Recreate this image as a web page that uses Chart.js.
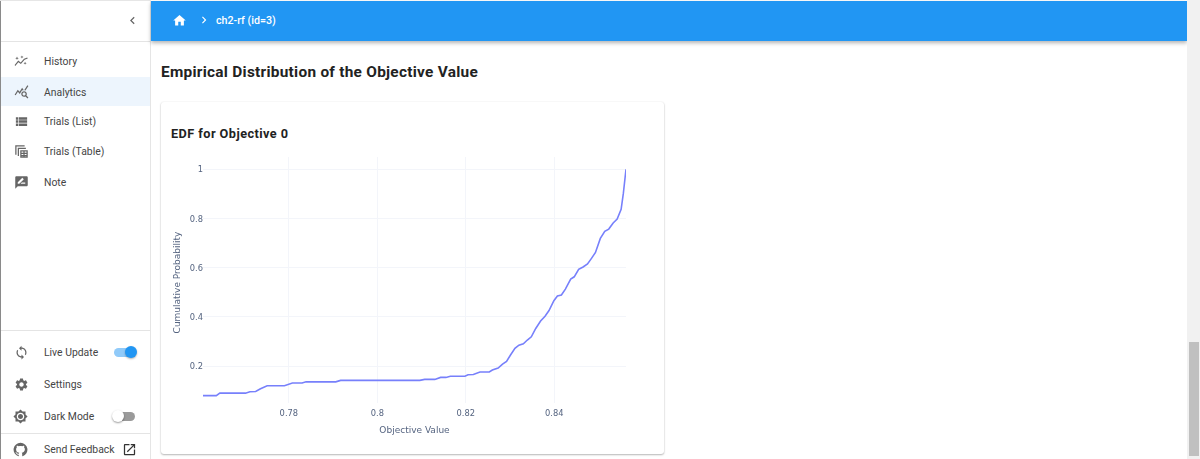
<!DOCTYPE html>
<html><head><meta charset="utf-8">
<script src="https://cdn.jsdelivr.net/npm/chart.js@4"></script>
<style>
html,body{margin:0;padding:0;width:1200px;height:459px;overflow:hidden;background:#fff;font-family:Roboto,sans-serif}
.abs{position:absolute}
#frame{left:0;top:0;width:1px;height:459px;background:#8a8a8a}
#topline{left:0;top:0;width:151px;height:1px;background:#e6e6e6}
#side{left:1px;top:0;width:150px;height:459px;border-right:1px solid #e5e5e5;box-sizing:border-box}
.div{left:1px;width:150px;height:1px;background:#e4e4e4}
#sel{left:1px;top:77px;width:149px;height:29px;background:#edf5fd}
.lbl{left:44px;font-size:10.4px;line-height:14px;color:#454545;white-space:nowrap}
.ic{width:15px;height:15px;fill:#666}
#bar{left:151px;top:1px;width:1036px;height:40px;background:#2196f3;box-shadow:0 2px 4px rgba(0,0,0,.3)}
#crumb{left:216px;top:13.5px;font-size:10.7px;line-height:14px;font-weight:500;color:#fff}
#h{left:161px;top:63px;font-size:15.4px;line-height:18px;font-weight:700;color:#222;letter-spacing:.27px;white-space:nowrap}
#card{left:161px;top:102px;width:503px;height:352px;background:#fff;border-radius:3px;box-shadow:0 1px 2px rgba(0,0,0,.28),0 0 2px rgba(0,0,0,.07)}
#h2{left:171px;top:126px;font-size:12.7px;line-height:16px;font-weight:700;color:#222;letter-spacing:.45px;white-space:nowrap}
#wrap{left:161px;top:150px;width:503px;height:300px}
#track{left:1187px;top:0;width:13px;height:459px;background:#f1f1f1}
#thumb{left:1189px;top:342px;width:10px;height:114px;background:#c0c0c0}
.t1{left:114px;top:348px;width:20px;height:9px;border-radius:5px;background:#90caf9}
.k1{left:125px;top:346px;width:12px;height:12px;border-radius:50%;background:#2196f3;box-shadow:0 1px 2px rgba(0,0,0,.3)}
.t2{left:115px;top:412px;width:20px;height:9px;border-radius:5px;background:#9a9a9a}
.k2{left:112px;top:410px;width:12px;height:12px;border-radius:50%;background:#fff;box-shadow:0 1px 2px rgba(0,0,0,.4)}
</style></head><body>
<div class="abs" id="side"></div><div class="abs" id="frame"></div><div class="abs" id="topline"></div>
<div class="abs" id="sel"></div>
<div class="abs div" style="top:41px"></div>
<div class="abs div" style="top:330px"></div>
<div class="abs div" style="top:433px"></div>

<svg class="abs ic" style="left:125px;top:13px" viewBox="0 0 24 24"><path d="M15.41 7.41 14 6l-6 6 6 6 1.41-1.41L10.83 12z"/></svg>

<svg class="abs ic" style="left:14px;top:54px" viewBox="0 0 24 24"><path d="M2 19l5-6 4 3 6-7 5-2-.8-1.600L16 7.500l-5.300 6-3.900-3L1 17.500zM4 6l.8-2 .8 2 2 .8-2 .8-.8 2-.8-2-2-.8zM12 4l.7-1.800.7 1.800 1.800.7-1.800.7-.7 1.800-.7-1.800-1.800-.7zM17 14l.7-1.800.7 1.800 1.800.7-1.800.7-.7 1.800-.7-1.800-1.800-.7z"/></svg>
<div class="abs lbl" style="top:55px">History</div>

<svg class="abs ic" style="left:14px;top:84px" viewBox="0 0 24 24"><path d="M19.88 18.47c.44-.7.7-1.51.7-2.39 0-2.49-2.01-4.5-4.5-4.5s-4.5 2.01-4.5 4.5 2.01 4.5 4.49 4.5c.88 0 1.7-.26 2.39-.7L21.58 23 23 21.58l-3.12-3.11zm-3.8.11c-1.38 0-2.5-1.12-2.5-2.5s1.12-2.5 2.5-2.5 2.5 1.12 2.5 2.5-1.12 2.5-2.5 2.5zm-.36-8.5c-.74.02-1.45.18-2.1.45l-.55-.83-3.8 6.18-3.01-3.52-3.63 5.81L1 17l5-8 3 3.5L13 6l2.72 4.08zm2.59.5c-.64-.28-1.33-.45-2.05-.49L21.38 2 23 3.18l-4.69 7.4z"/></svg>
<div class="abs lbl" style="top:86px">Analytics</div>

<svg class="abs ic" style="left:14px;top:114px" viewBox="0 0 24 24"><path d="M3 14h4v-4H3v4zm0 5h4v-4H3v4zM3 9h4V5H3v4zm5 5h13v-4H8v4zm0 5h13v-4H8v4zM8 5v4h13V5H8z"/></svg>
<div class="abs lbl" style="top:115px">Trials (List)</div>

<svg class="abs ic" style="left:14px;top:144px" viewBox="0 0 24 24"><path d="M2 2h15v2H4v13H2zM6 6h13v2H8v11H6zM10 10h12v12H10zm2 2v2h3v-2zm5 0v2h3v-2zm-5 4v1.500h3V16zm5 0v1.500h3V16zm-5 3.500V20h3v-.5zm5 0V20h3v-.5z"/></svg>
<div class="abs lbl" style="top:145px">Trials (Table)</div>

<svg class="abs ic" style="left:14px;top:175px" viewBox="0 0 24 24"><path d="M20 2H4c-1.100 0-2 .9-2 2v18l4-4h14c1.100 0 2-.9 2-2V4c0-1.100-.9-2-2-2zM6 14v-2.470l6.880-6.880c.2-.2.51-.2.71 0l1.770 1.770c.2.2.2.51 0 .71L8.470 14H6zm12 0h-7.500l2-2H18v2z"/></svg>
<div class="abs lbl" style="top:176px">Note</div>

<svg class="abs ic" style="left:14px;top:345px" viewBox="0 0 24 24"><path d="M12 4V1L8 5l4 4V6c3.310 0 6 2.690 6 6 0 1.010-.25 1.970-.7 2.800l1.460 1.460C19.540 15.030 20 13.570 20 12c0-4.420-3.580-8-8-8zm0 14c-3.310 0-6-2.690-6-6 0-1.010.25-1.970.7-2.800L5.240 7.740C4.460 8.970 4 10.430 4 12c0 4.420 3.580 8 8 8v3l4-4-4-4v3z"/></svg>
<div class="abs lbl" style="top:346px">Live Update</div>
<div class="abs t1"></div><div class="abs k1"></div>

<svg class="abs ic" style="left:14px;top:377px" viewBox="0 0 24 24"><path d="M19.140 12.940c.04-.3.06-.61.06-.94 0-.32-.02-.64-.07-.94l2.030-1.580c.18-.14.23-.41.12-.61l-1.920-3.320c-.12-.22-.37-.29-.59-.22l-2.390.96c-.5-.38-1.030-.7-1.620-.94l-.36-2.540c-.04-.24-.24-.41-.48-.41h-3.840c-.24 0-.43.17-.47.41l-.36 2.540c-.59.24-1.130.57-1.620.94l-2.390-.96c-.22-.08-.47 0-.59.22L2.740 8.870c-.12.21-.08.47.12.61l2.030 1.580c-.05.3-.09.63-.09.94s.02.64.07.94l-2.030 1.580c-.18.14-.23.41-.12.61l1.920 3.320c.12.22.37.29.59.22l2.390-.96c.5.38 1.030.7 1.620.94l.36 2.540c.05.24.24.41.48.41h3.840c.24 0 .44-.17.47-.41l.36-2.540c.59-.24 1.130-.56 1.620-.94l2.390.96c.22.08.47 0 .59-.22l1.920-3.320c.12-.22.07-.47-.12-.61l-2.010-1.580zM12 15.600c-1.980 0-3.600-1.620-3.600-3.600s1.620-3.600 3.600-3.600 3.600 1.620 3.600 3.600-1.620 3.600-3.600 3.600z"/></svg>
<div class="abs lbl" style="top:378px">Settings</div>

<svg class="abs ic" style="left:13px;top:409px" viewBox="0 0 24 24"><path d="M20 8.690V4h-4.690L12 .69 8.690 4H4v4.690L.69 12 4 15.310V20h4.690L12 23.310 15.310 20H20v-4.690L23.310 12 20 8.690zM12 18c-3.310 0-6-2.690-6-6s2.690-6 6-6 6 2.690 6 6-2.690 6-6 6zm0-10c-2.210 0-4 1.790-4 4s1.790 4 4 4 4-1.790 4-4-1.790-4-4-4z"/></svg>
<div class="abs lbl" style="top:410px">Dark Mode</div>
<div class="abs t2"></div><div class="abs k2"></div>

<svg class="abs ic" style="left:13px;top:442px" viewBox="0 0 24 24"><path d="M12 1.270a11 11 0 00-3.480 21.460c.55.09.73-.28.73-.55v-1.840c-3.030.64-3.670-1.460-3.670-1.460-.55-1.290-1.280-1.650-1.280-1.650-.92-.65.1-.65.1-.65 1.100 0 1.730 1.100 1.730 1.100.92 1.650 2.570 1.200 3.210.92a2 2 0 01.64-1.470c-2.470-.27-5.040-1.190-5.040-5.500 0-1.100.46-2.100 1.200-2.840a3.760 3.760 0 010-2.930s.91-.28 3.110 1.100c1.800-.49 3.700-.49 5.500 0 2.100-1.380 3.020-1.100 3.020-1.100a3.760 3.760 0 010 2.930c.83.74 1.200 1.740 1.200 2.940 0 4.210-2.570 5.130-5.040 5.400.45.37.82.92.82 2.020v3.030c0 .27.1.64.73.55A11 11 0 0012 1.270"/></svg>
<div class="abs lbl" style="top:443px">Send Feedback</div>
<svg class="abs ic" style="left:122px;top:442px;fill:#333" viewBox="0 0 24 24"><path d="M19 19H5V5h7V3H5c-1.110 0-2 .9-2 2v14c0 1.100.89 2 2 2h14c1.100 0 2-.9 2-2v-7h-2v7zM14 3v2h3.590l-9.830 9.830 1.410 1.410L19 6.410V10h2V3h-7z"/></svg>

<div class="abs" id="bar"></div>
<svg class="abs" style="left:172px;top:13px;width:15px;height:15px;fill:#fff" viewBox="0 0 24 24"><path d="M10 20v-6h4v6h5v-8h3L12 3 2 12h3v8z"/></svg>
<svg class="abs" style="left:197px;top:13px;width:14px;height:14px;fill:#fff" viewBox="0 0 24 24"><path d="M10 6 8.590 7.410 13.170 12l-4.580 4.590L10 18l6-6z"/></svg>
<div class="abs" id="crumb">ch2-rf (id=3)</div>

<div class="abs" id="h">Empirical Distribution of the Objective Value</div>
<div class="abs" id="card"></div>
<div class="abs" id="h2">EDF for Objective 0</div>
<div class="abs" id="wrap"><canvas id="c" width="503" height="300"></canvas></div>
<div class="abs" id="track"></div><div class="abs" id="thumb"></div>

<script>
const objectiveValues = [0.7606,0.7636,0.7644,0.7702,0.7712,0.7725,0.7736,0.7751,0.7790,0.7808,0.7830,0.7839,0.7906,0.7917,0.8096,0.8107,0.8130,0.8143,0.8155,0.8165,0.8198,0.8205,0.8217,0.8232,0.8253,0.8260,0.8273,0.8283,0.8292,0.8301,0.8311,0.8320,0.8330,0.8339,0.8348,0.8358,0.8369,0.8379,0.8388,0.8399,0.8407,0.8416,0.8425,0.8437,0.8445,0.8455,0.8465,0.8475,0.8484,0.8493,0.8504,0.8514,0.8523,0.8533,0.8542,0.8551,0.8556,0.8562];
const cumulativeProbabilities = [0.08,0.08,0.09,0.09,0.096,0.097,0.108,0.12,0.12,0.131,0.131,0.136,0.136,0.142,0.142,0.146,0.146,0.154,0.154,0.159,0.159,0.165,0.166,0.176,0.176,0.184,0.192,0.208,0.219,0.245,0.272,0.285,0.291,0.306,0.319,0.353,0.383,0.403,0.426,0.466,0.485,0.489,0.513,0.554,0.563,0.593,0.603,0.615,0.638,0.662,0.719,0.748,0.757,0.782,0.798,0.837,0.902,1];
const xTickValues = [0.78,0.8,0.82,0.84];
const yTickValues = [0.2,0.4,0.6,0.8,1];
const xAxisTitle = "Objective Value";
const yAxisTitle = "Cumulative Probability";

const tickFont = {family:'"DejaVu Sans"',size:8.3};
const titleFont = {family:'"DejaVu Sans"',size:9};
const ink = '#556480';
const gridColor = '#f3f5fa';

const shiftYTitle = {id:'shiftYTitle',beforeDraw(chart){const s=chart.scales.y;s.top+=2.5;s.bottom+=2.5;}};

new Chart(document.getElementById('c'),{
  type:'line',
  data:{datasets:[{
    data:objectiveValues.map((x,i)=>({x,y:cumulativeProbabilities[i]})),
    borderColor:'#7780fb',borderWidth:1.6,pointRadius:0,tension:0,fill:false
  }]},
  plugins:[shiftYTitle],
  options:{
    responsive:false,animation:false,
    layout:{padding:{left:0,right:38,top:7,bottom:0}},
    plugins:{legend:{display:false},tooltip:{enabled:false}},
    scales:{
      x:{type:'linear',min:0.7606,max:0.8562,
        afterBuildTicks:s=>{s.ticks=xTickValues.map(value=>({value}));},
        afterFit:s=>{s.height=47;},
        grid:{color:gridColor,drawTicks:false},border:{display:false},
        ticks:{color:ink,font:tickFont,padding:6,maxRotation:0,autoSkip:false,callback:v=>String(v)},
        title:{display:true,text:xAxisTitle,color:ink,font:titleFont,padding:{top:0,bottom:14}}
      },
      y:{type:'linear',min:0.05,max:1.05,
        afterBuildTicks:s=>{s.ticks=yTickValues.map(value=>({value}));},
        afterFit:s=>{s.width=42;},
        grid:{color:gridColor,drawTicks:false},border:{display:false},
        ticks:{color:ink,font:tickFont,padding:0,labelOffset:1,autoSkip:false,callback:v=>String(v)},
        title:{display:true,text:yAxisTitle,color:ink,font:titleFont,padding:{top:11,bottom:0}}
      }
    }
  }
});
</script>
</body></html>
